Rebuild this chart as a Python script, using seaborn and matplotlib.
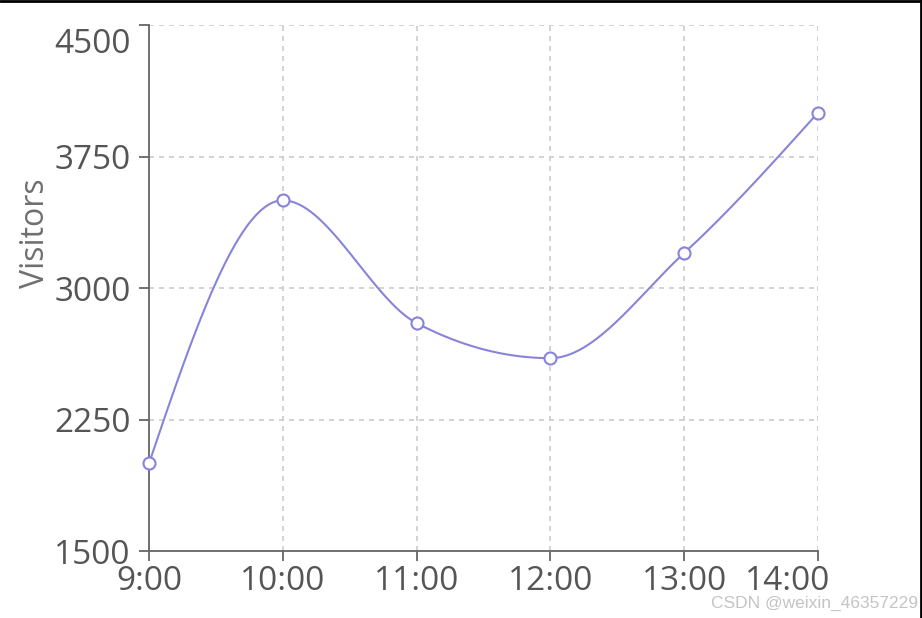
import numpy as np
import pandas as pd
import matplotlib
matplotlib.use("Agg")
import matplotlib.pyplot as plt
import matplotlib.transforms as mtransforms
import seaborn as sns
from matplotlib.lines import Line2D

# data
times = ["9:00", "10:00", "11:00", "12:00", "13:00", "14:00"]
visitors = [2000, 3500, 2800, 2600, 3200, 4000]
y_ticks = [1500, 2250, 3000, 3750, 4500]

LINE = "#8884d8"
AXIS = "#666666"


def monotone_x(x, y, n=40):
    # d3.curveMonotoneX style smoothing between the data points
    x = np.asarray(x, float)
    y = np.asarray(y, float)
    h = np.diff(x)
    s = np.diff(y) / h
    t = np.zeros_like(y)
    for i in range(1, len(x) - 1):
        p = (s[i - 1] * h[i] + s[i] * h[i - 1]) / (h[i - 1] + h[i])
        t[i] = (np.sign(s[i - 1]) + np.sign(s[i])) * min(abs(s[i - 1]), abs(s[i]), 0.5 * abs(p))
    t[0] = (3 * s[0] - t[1]) / 2
    t[-1] = (3 * s[-1] - t[-2]) / 2
    xs, ys = [], []
    u = np.linspace(0, 1, n)
    for i in range(len(x) - 1):
        dx = h[i] / 3
        px = [x[i], x[i] + dx, x[i + 1] - dx, x[i + 1]]
        py = [y[i], y[i] + dx * t[i], y[i + 1] - dx * t[i + 1], y[i + 1]]
        b = [(1 - u) ** 3, 3 * u * (1 - u) ** 2, 3 * u ** 2 * (1 - u), u ** 3]
        xs.append(sum(bi * pi for bi, pi in zip(b, px)))
        ys.append(sum(bi * pi for bi, pi in zip(b, py)))
    return np.concatenate(xs), np.concatenate(ys)


pos = np.arange(len(times))
cx, cy = monotone_x(pos, visitors)
curve = pd.DataFrame({"x": cx, "y": cy})
points = pd.DataFrame({"x": pos, "y": visitors})

sns.set_theme(style="white")
plt.rcParams["font.family"] = ["Open Sans", "DejaVu Sans"]

fig = plt.figure(figsize=(9.22, 6.18), dpi=100)
ax = fig.add_axes([0.1616, 0.1084, 0.7256, 0.8511])

sns.lineplot(data=curve, x="x", y="y", ax=ax, color=LINE, linewidth=1.5, sort=False, zorder=3)
sns.scatterplot(data=points, x="x", y="y", ax=ax, s=75, color="white",
                edgecolor=LINE, linewidth=1.5, zorder=4)
for coll in ax.collections:
    coll.set_clip_on(False)

ax.set_xlim(0, len(times) - 1)
ax.set_ylim(1500, 4500)
ax.set_xticks(pos)
ax.set_xticklabels(times)
ax.set_yticks(y_ticks)
ax.grid(True, linestyle=(0, (3, 3)), color="#cccccc", linewidth=1.2)
ax.set_axisbelow(True)

for side in ["top", "right"]:
    ax.spines[side].set_visible(False)
for side in ["left", "bottom"]:
    ax.spines[side].set_color(AXIS)
    ax.spines[side].set_linewidth(1.3)

ax.tick_params(axis="both", which="both", direction="out", length=7, width=1.3,
               color=AXIS, labelcolor="#555555", labelsize=24, left=True, bottom=True)
ax.tick_params(axis="y", pad=6)
ax.tick_params(axis="x", pad=3)

# edge labels are pulled inside like in the original
last = ax.get_xticklabels()[-1]
last.set_transform(last.get_transform() + mtransforms.ScaledTranslation(-30 / 100, 0, fig.dpi_scale_trans))
top = ax.get_yticklabels()[-1]
top.set_transform(top.get_transform() + mtransforms.ScaledTranslation(0, -15 / 100, fig.dpi_scale_trans))

ax.set_xlabel("")
ax.set_ylabel("Visitors", fontsize=23, color="#6f6f6f")
ax.yaxis.set_label_coords(-0.145, 0.605)

fig.text(0.996, 0.012, "CSDN @weixin_46357229", ha="right", va="bottom",
         fontsize=12.5, color="#c4c4c4", family=["Liberation Sans", "DejaVu Sans"])

# thin black frame at the top and right edge of the image
fig.add_artist(Line2D([0, 1], [0.999, 0.999], transform=fig.transFigure, color="black", linewidth=2))
fig.add_artist(Line2D([0.999, 0.999], [0, 1], transform=fig.transFigure, color="black", linewidth=2))

fig.savefig("out.png", dpi=100, facecolor="white")
